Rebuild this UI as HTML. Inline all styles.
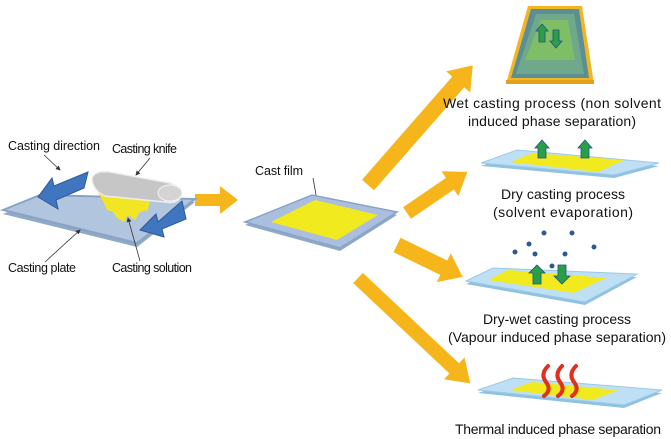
<!DOCTYPE html>
<html><head><style>
html,body{margin:0;padding:0;background:#fff;}
svg{display:block;}
text{font-family:"Liberation Sans",sans-serif;fill:#111;}
</style></head><body>
<svg width="671" height="439" viewBox="0 0 671 439" xmlns="http://www.w3.org/2000/svg">
<defs>
<marker id="ah" markerWidth="6" markerHeight="6" refX="5" refY="3" orient="auto"><path d="M0,0 L6,3 L0,6 z" fill="#333"/></marker>
</defs>

<!-- orange arrows -->
<g fill="#F7B51C">
<g transform="translate(195,200)"><polygon points="0,-6 25,-6 25,-14 43,0 25,14 25,6 0,6"/></g>
<g transform="translate(368,185) rotate(-48.8)"><polygon points="0,-8 137,-8 137,-16 159,0 137,16 137,8 0,8"/></g>
<g transform="translate(407,213) rotate(-34.3)"><polygon points="0,-7 52,-7 52,-15 73,0 52,15 52,7 0,7"/></g>
<g transform="translate(397,245) rotate(25.9)"><polygon points="0,-8 52,-8 52,-16 73,0 52,16 52,8 0,8"/></g>
<g transform="translate(358,278) rotate(43.2)"><polygon points="0,-7 132,-7 132,-15 154,0 132,15 132,7 0,7"/></g>
</g>

<!-- left casting plate -->
<polygon points="3,214 40,198 195,202 137,247" fill="#8fa9c8" />
<polygon points="3,210 40,195 195,199 137,243" fill="#b2c5df" stroke="#8aa3c4" stroke-width="2"/>
<path d="M94,186 L150,200 L148,210 L140,212 L135,220 L128,215 L124,222 L117,218 L113,212 L107,210 L103,201 Z" fill="#f2e624"/>
<path d="M92,178 Q95,170 110,172 L170,183 Q184,188 180,198 Q176,204 165,202 L105,196 Q92,190 92,178 Z" fill="#c6c6c6" stroke="#eee" stroke-width="1.5"/>
<ellipse cx="170" cy="193" rx="12" ry="8" fill="#d4d4d4" stroke="#f4f4f4"/>
<g fill="#3f76bf" stroke="#2d5a96" stroke-width="1">
<polygon points="88,172 84,188 56,200 58,209 38,197 52,178 54,186"/>
<polygon points="182,205 186,223 162,233 164,241 140,234 156,218 158,226" transform="translate(0,-4)"/>
</g>
<text x="8" y="150" font-size="12.5" textLength="92">Casting direction</text>
<text x="112" y="153" font-size="12.5" textLength="65">Casting knife</text>
<text x="8" y="272" font-size="12.5" textLength="68">Casting plate</text>
<text x="112" y="272" font-size="12.5" textLength="80">Casting solution</text>
<g stroke="#333" stroke-width="0.8" fill="none">
<line x1="44" y1="155" x2="60" y2="170" marker-end="url(#ah)"/>
<line x1="150" y1="158" x2="136" y2="175" marker-end="url(#ah)"/>
<line x1="45" y1="262" x2="80" y2="230" marker-end="url(#ah)"/>
<line x1="140" y1="261" x2="128" y2="218" marker-end="url(#ah)"/>
<line x1="313" y1="178" x2="318" y2="206" marker-end="url(#ah)"/>
</g>

<!-- cast film plate -->
<polygon points="245,225 312,198 397,215 340,251" fill="#8fa9c8"/>
<polygon points="245,222 312,195 397,212 340,248" fill="#aabfe0" stroke="#8aa3c4" stroke-width="1.5"/>
<polygon points="271,222 315,200 378,215 337,240" fill="#f0ea1f"/>
<text x="255" y="175" font-size="12.5" textLength="48">Cast film</text>

<!-- wet tray -->
<polygon points="528,6 582,6 594,84 506,84" fill="#f2b623"/>
<polygon points="531,9 579,9 589,78 511,78" fill="#5b8f95"/>
<polygon points="536,14 574,14 584,74 516,74" fill="#6fa88a"/>
<polygon points="541,20 568,20 575,60 525,60" fill="#7fbe66"/>
<polygon points="506,80 594,80 594,84 506,84" fill="#e2a118"/>
<g fill="#2aa046" stroke="#244e8a" stroke-width="0.8">
<polygon points="542,24 548,31 545,31 545,42 539,42 539,31 536,31"/>
<polygon points="556,48 562,41 559,41 559,30 553,30 553,41 550,41"/>
</g>
<text x="552" y="108" font-size="14" text-anchor="middle" textLength="218">Wet casting process (non solvent</text>
<text x="552" y="126" font-size="14" text-anchor="middle" textLength="168">induced phase separation)</text>

<!-- dry plate -->
<polygon points="481,166 517,153 659,166 614,178" fill="#8fc1e0"/>
<polygon points="481,163 517,150 659,163 614,175" fill="#bfe0f4" stroke="#9bc9e6"/>
<polygon points="510,162 533,153 624,160 598,172" fill="#f0ea1f"/>
<g fill="#2aa046" stroke="#244e8a" stroke-width="0.8">
<polygon points="542,140 549,148 546,148 546,158 538,158 538,148 535,148"/>
<polygon points="585,140 592,148 589,148 589,158 581,158 581,148 578,148"/>
</g>
<text x="563" y="199" font-size="14" text-anchor="middle" textLength="124">Dry casting process</text>
<text x="563" y="217" font-size="14" text-anchor="middle" textLength="140">(solvent evaporation)</text>

<!-- dry-wet plate -->
<polygon points="466,284 493,271 637,277 585,305" fill="#8fc1e0"/>
<polygon points="466,281 493,268 637,274 585,302" fill="#bfe0f4" stroke="#9bc9e6"/>
<polygon points="488,280 508,270 606,278 574,293" fill="#f0ea1f"/>
<g fill="#2d5a96">
<circle cx="544" cy="233" r="2.5"/><circle cx="572" cy="233" r="2.5"/>
<circle cx="529" cy="244" r="2.5"/><circle cx="594" cy="247" r="2.5"/>
<circle cx="515" cy="252" r="2.5"/><circle cx="535" cy="254" r="2.5"/>
<circle cx="565" cy="254" r="2.5"/><circle cx="552" cy="266" r="2.5"/>
</g>
<g fill="#2aa046" stroke="#244e8a" stroke-width="0.8">
<polygon points="537,265 545,273 541,273 541,284 533,284 533,273 529,273"/>
<polygon points="562,284 570,276 566,276 566,265 558,265 558,276 554,276"/>
</g>
<text x="557" y="324" font-size="14" text-anchor="middle" textLength="148">Dry-wet casting process</text>
<text x="557" y="342" font-size="14" text-anchor="middle" textLength="218">(Vapour induced phase separation)</text>

<!-- thermal plate -->
<polygon points="478,393 513,381 662,393 624,408" fill="#8fc1e0"/>
<polygon points="478,390 513,378 662,390 624,405" fill="#bfe0f4" stroke="#9bc9e6"/>
<polygon points="510,390 532,382 618,390 593,400" fill="#f0ea1f"/>
<g fill="none" stroke="#e0301e" stroke-width="4" stroke-linecap="round">
<path d="M548,366 Q540,374 546,382 Q552,390 544,396"/>
<path d="M562,366 Q554,374 560,382 Q566,390 558,396"/>
<path d="M576,366 Q568,374 574,382 Q580,390 572,396"/>
</g>
<text x="558" y="434" font-size="14" text-anchor="middle" textLength="206">Thermal induced phase separation</text>
</svg>
</body></html>
